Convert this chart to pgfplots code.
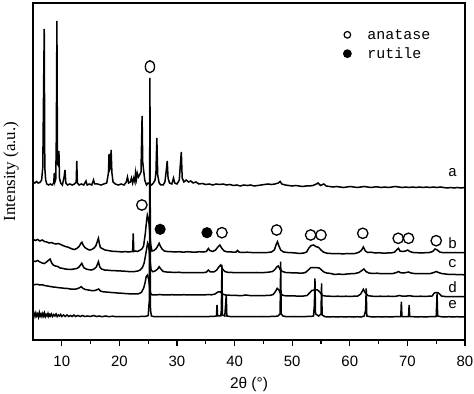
\documentclass[border=0pt]{standalone}
\usepackage{fontspec}
\usepackage{pgfplots}
\pgfplotsset{compat=1.18}
\setmainfont{Liberation Serif}
\newfontfamily\ticksf{Liberation Sans}
\newfontfamily\mono{Liberation Mono}
\newfontfamily\serf{Liberation Serif}
\begin{document}
\begin{tikzpicture}
\begin{axis}[
  name=ax,
  scale only axis, width=432bp, height=337bp,
  xmin=5, xmax=80, ymin=0, ymax=337,
  ytick=\empty,
  xtick={10,20,...,80}, minor x tick num=1,
  xtick pos=left, tick align=outside,
  major tick length=6bp, minor tick length=4bp,
  every tick/.style={black, line width=1.1bp},
  axis line style={line width=1.2bp},
  /pgf/number format/assume math mode=true,
  xticklabel style={font=\ticksf\fontsize{15}{17}\selectfont, yshift=-7bp},
  xlabel={2θ (°)},
  xlabel style={font=\ticksf\fontsize{15.5}{17}\selectfont, at={(axis description cs:0.5,0)}, anchor=center, yshift=-45bp},
  ylabel={Intensity (a.u.)},
  ylabel style={font=\serf\fontsize{17}{19}\selectfont, at={(axis description cs:0,0.5)}, anchor=center, yshift=22bp},
  legend style={draw=none, fill=none, font=\mono\fontsize{15}{17}\selectfont, at={(0.712,0.935)}, anchor=north west, row sep=3bp, /tikz/column sep=14.5bp},
  legend cell align=left,
  every axis plot/.append style={line width=1.5bp, black},
]
\addlegendimage{only marks, mark=o, mark size=3.3bp, line width=1.2bp}
\addlegendentry{anatase}
\addlegendimage{only marks, mark=*, mark size=3.6bp}
\addlegendentry{rutile}
% curve a
\addplot[no marks, forget plot] coordinates {
(5.0,158)(5.3,157)(5.6,158.5)(5.9,157)(6.2,157.5)(6.5,160)(6.7,173)(6.85,257)(6.95,311)(7.05,172)(7.2,160)(7.4,156)(7.7,155)(8.0,156)(8.3,155)(8.6,157)(8.7,167)(8.8,158)(8.95,161)(9.05,203)(9.15,319)(9.25,176)(9.35,175)(9.5,189)(9.6,162)(9.8,157)(10.1,155)(10.4,163)(10.55,170)(10.7,157)(11.0,155)(11.4,156)(11.8,155)(12.2,156)(12.5,158)(12.6,179)(12.7,157)(13.0,155)(13.4,156)(13.8,155)(14.2,159)(14.4,155)(14.8,156)(15.2,155)(15.5,160)(15.7,156)(16.2,156)(16.8,155)(17.3,156)(17.8,157)(18.1,167)(18.2,186)(18.3,170)(18.45,172)(18.56,190)(18.7,167)(18.9,158)(19.3,156)(19.8,155)(20.3,156)(20.8,155)(21.2,158)(21.4,163)(21.6,157)(21.9,158)(22.1,162)(22.3,157)(22.5,162)(22.7,158)(22.8,167)(22.95,161)(23.1,167)(23.3,163)(23.5,165)(23.75,168)(23.94,224)(24.05,178)(24.2,170)(24.4,160)(24.7,155)(25.0,157)(25.6,155)(25.9,157)(26.2,160)(26.35,168)(26.5,202)(26.65,165)(26.9,157)(27.2,155)(27.6,155)(27.9,158)(28.15,170)(28.3,179)(28.45,162)(28.7,157)(29.1,156)(29.4,162)(29.6,157)(30.0,156)(30.4,160)(30.55,173)(30.75,188)(30.9,162)(31.2,158)(31.6,160)(32.0,158)(32.4,159)(32.8,157)(33.3,158)(33.8,156)(34.4,156.5)(35.0,155.5)(35.6,156)(36.2,155)(36.8,156)(37.4,155.5)(38.0,156)(38.6,155)(39.2,155.5)(39.8,154.5)(40.4,155)(41.0,154)(41.6,155)(42.2,154.5)(42.8,155)(43.4,154)(44.0,154.5)(44.6,155)(45.2,155.5)(45.8,156)(46.4,155.5)(47.0,156)(47.6,157)(47.9,158.5)(48.2,156)(48.8,155)(49.4,154.5)(50.0,154)(50.6,154.5)(51.2,154)(51.8,153.5)(52.4,154)(53.0,154)(53.6,154.5)(54.2,156)(54.5,157)(54.9,154.5)(55.5,156)(55.9,154)(56.5,153.5)(57.1,153)(57.7,153.5)(58.3,153)(58.9,152.5)(59.5,153)(60.1,153.5)(60.7,153)(61.3,152.5)(61.9,153)(62.5,153.5)(63.1,153)(63.7,152.5)(64.3,153)(64.9,153)(65.5,152.5)(66.1,153)(66.7,152.5)(67.3,153)(67.9,153.5)(68.5,153)(69.1,152.5)(69.7,153)(70.3,152.5)(70.9,153)(71.5,152.5)(72.1,153)(72.7,152.5)(73.3,153)(73.9,152.5)(74.5,153)(75.1,152.5)(75.7,153)(76.3,152.5)(76.9,152)(77.5,152.5)(78.1,152)(78.7,152.5)(79.3,152)(80.0,152.5)
};
% curve b
\addplot[no marks, forget plot] coordinates {
(5.0,100.7)(5.4,99.5)(5.8,100.5)(6.2,99)(6.6,100)(7.0,98.5)(7.4,98)(7.8,97)(8.2,97.5)(8.6,96.5)(9.0,96)(9.4,96.5)(9.8,95.5)(10.2,94.5)(10.6,93.5)(11.0,93)(11.4,92)(11.8,91)(12.2,90.5)(12.6,91.5)(13.0,93.5)(13.3,96.5)(13.5,97.7)(13.7,95)(14.0,92.5)(14.4,91)(14.8,90)(15.2,90.5)(15.6,92)(15.9,94)(16.2,99)(16.36,101.7)(16.5,97)(16.7,92.5)(17.0,91.5)(17.5,90)(18.0,89.5)(18.5,89)(19.0,88.5)(19.5,88.5)(20.0,88.3)(20.5,88)(21.0,88.5)(21.5,88)(22.0,88.3)(22.3,88.5)(22.4,106.7)(22.5,88.5)(22.8,89)(23.1,88.5)(23.5,89.5)(23.9,91)(24.2,94)(24.5,106.7)(24.7,118)(24.85,125)(25.0,122)(25.15,116)(25.3,105)(25.45,95)(25.65,89)(26.0,89.5)(26.4,91.5)(26.7,94.5)(26.9,96.7)(27.1,94)(27.4,91)(27.8,89)(28.3,88.5)(29.0,88.3)(29.7,88)(30.4,88.3)(31.1,87.8)(31.8,88.3)(32.5,88)(33.2,87.8)(33.9,88.3)(34.6,88)(35.1,88.5)(35.45,91.5)(35.7,89.5)(36.2,88.5)(36.7,90)(37.1,93)(37.45,95)(37.8,91.5)(38.2,89)(38.8,88)(39.5,88)(40.2,87.8)(40.5,89.5)(40.8,87.8)(41.5,87.5)(42.2,87.8)(42.9,87.5)(43.6,87.3)(44.3,87.5)(45.0,87.3)(45.7,87.5)(46.4,88)(46.9,90)(47.25,96)(47.45,98.3)(47.7,94)(48.0,90)(48.5,88)(49.2,87.5)(49.9,87.3)(50.6,87)(51.3,86.5)(52.0,87)(52.5,88)(52.9,92)(53.3,94.5)(53.7,95)(54.1,93.5)(54.6,92.5)(55.0,90)(55.4,88)(56.0,86.8)(56.7,86.5)(57.4,86.3)(58.1,86.5)(58.8,86)(59.5,86.5)(60.2,86.3)(60.9,86.5)(61.5,87.5)(62.0,89.5)(62.35,93)(62.7,89)(63.1,87.5)(63.7,87.8)(64.4,87)(65.1,87.3)(65.8,86.8)(66.5,87)(67.2,87)(67.8,88)(68.2,90.5)(68.45,91.7)(68.7,89)(69.2,88.5)(69.7,89)(70.05,90)(70.4,88.5)(71.0,87.5)(71.7,87.3)(72.4,87)(73.1,87.3)(73.8,87.5)(74.4,88.5)(74.8,91)(75.2,90)(75.6,88)(76.2,87.3)(76.9,87.5)(77.6,87.3)(78.3,87.5)(79.0,87.3)(80.0,87.3)
};
% curve c
\addplot[no marks, forget plot] coordinates {
(5.0,79)(5.4,78.5)(5.8,79.5)(6.2,78)(6.6,77)(7.0,76.5)(7.4,78.3)(7.75,80)(7.97,81)(8.2,77.5)(8.5,75)(8.9,74)(9.3,73.5)(9.7,72)(10.1,71.7)(10.6,71)(11.1,70.7)(11.6,70.5)(12.1,71)(12.6,71.5)(13.0,73)(13.47,76.7)(13.8,72.5)(14.2,71)(14.7,70.3)(15.2,70)(15.6,71)(16.0,73)(16.36,78.3)(16.6,73)(16.9,71)(17.4,70)(17.9,69.8)(18.5,69.5)(19.1,69.3)(19.7,69.2)(20.3,69)(20.9,68.8)(21.5,68.5)(22.1,68.3)(22.7,68.5)(23.2,69)(23.6,70)(24.0,72.5)(24.3,77)(24.55,85)(24.75,92)(24.9,97)(25.05,95)(25.2,88)(25.35,78)(25.5,70)(25.8,68.3)(26.2,69)(26.6,70.7)(26.9,73.3)(27.2,71)(27.6,68.5)(28.2,68)(28.9,67.8)(29.6,67.5)(30.3,67.8)(31.0,67.3)(31.7,67.5)(32.4,67.3)(33.1,67.5)(33.8,67.3)(34.5,67.3)(35.1,67.8)(35.45,70)(35.8,68)(36.4,68)(36.9,70)(37.3,73.3)(37.6,75)(37.9,71)(38.3,68.5)(38.9,67.5)(39.6,67.5)(40.3,67.3)(41.0,67.5)(41.7,67.3)(42.4,67.5)(43.1,67.3)(43.8,67.5)(44.5,67.3)(45.2,67.5)(45.9,67.8)(46.6,68.5)(47.0,70.5)(47.35,73.3)(47.6,74)(47.9,70.5)(48.3,68.5)(48.9,67.5)(49.6,67.3)(50.3,67)(51.0,67)(51.7,66.8)(52.3,67.5)(52.8,70)(53.2,72.3)(53.7,72.3)(54.3,72.3)(54.7,72)(55.1,70)(55.5,68)(56.0,67)(56.7,66.5)(57.4,65.5)(58.1,66)(58.8,65.5)(59.5,66)(60.2,66.3)(60.9,66.5)(61.6,67.5)(62.1,69.5)(62.45,71)(62.8,68.5)(63.3,67)(64.0,66.5)(64.7,66.8)(65.4,66.3)(66.1,66.5)(66.8,66.3)(67.5,66.5)(68.1,67.5)(68.45,68.5)(68.8,67.3)(69.3,67)(69.8,67.5)(70.2,68)(70.6,67)(71.2,66.5)(71.9,66.3)(72.6,66.5)(73.3,66.3)(74.0,66.5)(74.6,67.5)(75.0,68.5)(75.4,67.5)(75.9,66.5)(76.6,66)(77.3,65.5)(78.0,65.7)(78.7,65.3)(79.4,65.5)(80.0,65)
};
% curve d
\addplot[no marks, forget plot] coordinates {
(5.0,55)(5.4,55.5)(5.8,55.7)(6.2,55)(6.6,55.3)(7.0,54.5)(7.5,54)(8.0,53.5)(8.5,53)(9.0,52.7)(9.5,52.3)(10.0,52)(10.5,51.7)(11.0,51.5)(11.5,51)(12.0,50.8)(12.5,51)(13.0,52)(13.4,53.3)(13.7,51.5)(14.1,50.5)(14.6,50)(15.1,49.5)(15.6,49.3)(16.0,50)(16.4,51)(16.7,49)(17.1,48.3)(17.6,48)(18.1,47.8)(18.6,47.5)(19.1,47.3)(19.7,47)(20.3,46.8)(20.9,46.5)(21.5,46.3)(22.1,46)(22.7,46)(23.3,46.2)(23.8,47.5)(24.2,51.7)(24.45,57)(24.65,63.3)(24.9,65)(25.1,60)(25.25,53)(25.4,47)(25.7,45)(26.3,45)(27.0,45.5)(27.7,45)(28.4,45)(29.1,45.3)(29.8,45)(30.5,45)(31.2,45.3)(31.9,45)(32.6,45)(33.3,45.2)(34.0,45)(34.7,45)(35.4,45.5)(36.0,45.2)(36.6,46)(37.1,48)(37.5,48.3)(37.9,46)(38.4,45)(39.1,44.8)(39.8,44.5)(40.5,44.5)(41.2,44.3)(41.9,45)(42.6,44.5)(43.3,44.3)(44.0,44.5)(44.7,44.3)(45.4,44.5)(46.1,44.5)(46.7,45.5)(47.1,48.5)(47.4,51.7)(47.7,50)(48.0,46)(48.5,44.5)(49.2,44)(49.9,44)(50.6,44)(51.3,43.8)(52.0,44)(52.6,44.5)(53.0,47)(53.4,49.5)(53.9,50)(54.4,50)(54.8,48)(55.2,44.5)(55.8,44)(56.5,43.8)(57.2,43.5)(57.9,43.8)(58.6,43.5)(59.3,43.8)(60.0,43.5)(60.7,43.8)(61.4,44)(61.9,46)(62.35,50.7)(62.7,47)(63.2,44.3)(63.9,43.8)(64.6,43.5)(65.3,43.8)(66.0,43.5)(66.7,43.8)(67.4,43.5)(68.1,43.8)(68.6,44.5)(69.0,44)(69.7,43.8)(70.3,44.3)(70.9,43.8)(71.6,43.5)(72.3,43.8)(73.0,43.5)(73.7,43.8)(74.3,44)(74.6,46.5)(74.8,47.3)(75.3,47.3)(75.6,46)(75.9,44)(76.5,43.5)(77.2,43.3)(77.9,43.5)(78.6,43.3)(79.3,43.5)(80.0,43.3)
};
% curve e
\addplot[no marks, forget plot] coordinates {
(5.0,24)(5.2,26.5)(5.35,23.5)(5.5,27)(5.65,24)(5.8,26)(5.95,23)(6.1,27.5)(6.25,24)(6.4,26)(6.55,23.5)(6.7,26.5)(6.85,24)(7.0,27)(7.15,23.5)(7.3,25.5)(7.45,24)(7.6,26.5)(7.75,23.5)(7.9,25.5)(8.05,24)(8.2,26)(8.4,23.5)(8.6,25.5)(8.8,24)(9.0,26)(9.2,23.5)(9.4,25)(9.6,24)(9.8,25.5)(10.0,23.5)(10.3,25)(10.6,23.5)(10.9,25)(11.2,23.5)(11.5,24.5)(11.8,23.5)(12.1,25)(12.4,23.5)(12.8,24.5)(13.2,23.5)(13.6,24.5)(14.0,23.5)(14.5,24)(15.0,23.5)(15.5,24.5)(16.0,23.5)(16.5,24)(17.0,23.3)(17.6,24)(18.2,23.3)(18.8,23.8)(19.4,23.3)(20.0,23.5)(20.6,23.3)(21.2,23.5)(21.8,23.3)(22.4,23.5)(23.0,23.3)(23.6,23.5)(24.2,23.5)(24.7,23.8)(25.0,24.5)(25.2,40)(25.3,262)(25.4,30)(25.55,24)(25.9,23.5)(26.5,23.3)(27.2,23.5)(27.9,23.3)(28.6,23.5)(29.3,23.3)(30.0,23.5)(30.7,23.3)(31.4,23.5)(32.1,23.3)(32.8,23.5)(33.5,23.3)(34.2,23.5)(34.9,23.3)(35.6,23.5)(36.3,23.5)(36.85,24)(36.95,35)(37.05,24)(37.6,24)(37.7,30)(37.8,75)(37.9,25)(38.3,24)(38.55,45)(38.65,24)(39.2,23.5)(39.9,23.3)(40.6,23.5)(41.3,23.3)(42.0,23.5)(42.7,23.3)(43.4,23.5)(44.1,23.3)(44.8,23.5)(45.5,23.3)(46.2,23.5)(46.9,23.5)(47.5,24)(47.9,26)(48.0,78.3)(48.1,26)(48.4,24)(49.0,23.3)(49.7,23.3)(50.4,23.5)(51.1,23.3)(51.8,23.3)(52.5,23.5)(53.2,23.5)(53.7,24)(53.85,35)(53.95,61.7)(54.05,26)(54.6,24)(55.0,26)(55.1,56.7)(55.2,25)(55.7,23.3)(56.4,23)(57.1,23.3)(57.8,23)(58.5,23.3)(59.2,23)(59.9,23.3)(60.6,23)(61.3,23.3)(62.0,23)(62.5,24)(62.75,30)(62.85,51.7)(62.95,24)(63.5,23.3)(64.2,23)(64.9,23.3)(65.6,23)(66.3,23.3)(67.0,23)(67.7,23.3)(68.5,23.3)(68.85,23.5)(68.95,38.3)(69.05,23.5)(69.6,23.3)(70.2,23.5)(70.3,35)(70.4,23.5)(71.0,23.3)(71.7,23)(72.4,23.3)(73.1,23)(73.8,23.3)(74.5,23.3)(75.0,23.5)(75.15,46.7)(75.25,24)(75.8,23.3)(76.5,23)(77.2,23.3)(77.9,23)(78.6,23.3)(79.3,23)(80.0,23.3)
};
% phase markers
\addplot[only marks, mark=o, mark size=5.2bp, line width=1.3bp, forget plot] coordinates {
(23.9,135)(37.8,107.3)(47.3,110)(53.2,105)(55.0,105)(62.25,106.7)(68.4,101.7)(70.2,101.7)(75.0,99.3)
};
\addplot[only marks, mark=*, mark size=4.8bp, forget plot] coordinates {
(27.07,110.7)(35.2,107.3)
};
\addplot[only marks, mark=o, mark size=4.6bp, line width=1.3bp, mark options={yscale=1.3}, forget plot] coordinates {
(25.3,273.3)
};
\node[font=\mono\fontsize{15}{17}\selectfont] at (axis cs:77.85,167.3) {a};
\node[font=\mono\fontsize{15}{17}\selectfont] at (axis cs:77.85,96.7) {b};
\node[font=\mono\fontsize{15}{17}\selectfont] at (axis cs:77.85,76.7) {c};
\node[font=\mono\fontsize{15}{17}\selectfont] at (axis cs:77.85,53.3) {d};
\node[font=\mono\fontsize{15}{17}\selectfont] at (axis cs:77.85,35) {e};
\end{axis}
\pgfresetboundingbox
\path ([shift={(-33bp,-54bp)}]ax.south west) rectangle ([shift={(9bp,3bp)}]ax.north east);
\end{tikzpicture}
\end{document}
